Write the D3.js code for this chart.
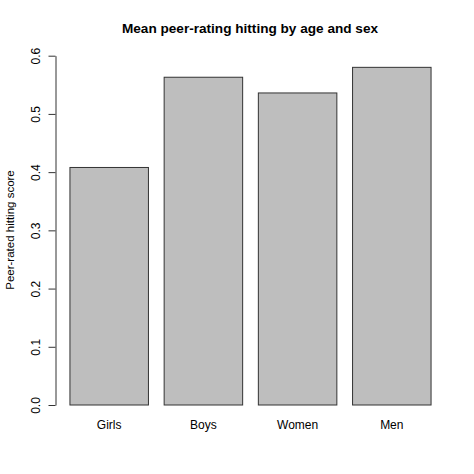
<!DOCTYPE html>
<html>
<head>
<meta charset="utf-8">
<script src="https://cdn.jsdelivr.net/npm/d3@7"></script>
<style>
  body { margin: 0; background: #fff; }
  text { font-family: "Liberation Sans", Arial, sans-serif; fill: #000; }
</style>
</head>
<body>
<svg id="chart" width="474" height="474"></svg>
<script>
// chart data
var categories = ["Girls", "Boys", "Women", "Men"];
var meanScores = [0.408, 0.563, 0.536, 0.580];
var yTicks = [0, 0.1, 0.2, 0.3, 0.4, 0.5, 0.6];
var chartTitle = "Mean peer-rating hitting by age and sex";
var yLabel = "Peer-rated hitting score";

var svg = d3.select("#chart");
svg.append("rect").attr("width", 474).attr("height", 474).attr("fill", "#fff");

// plot region (R barplot style: width 1, space 0.2)
var left = 55.5, right = 445.5;
var x = d3.scaleLinear().domain([0.016, 4.984]).range([left, right]);
var y = d3.scaleLinear().domain([0, 0.6]).range([405, 55.7]);

var barX = function(i) { return 0.2 + i * 1.2; };

svg.selectAll("rect.bar").data(meanScores).enter().append("rect")
	.attr("class", "bar")
	.attr("x", function(d, i) { return x(barX(i)); })
	.attr("y", function(d) { return y(d); })
	.attr("width", function(d, i) { return x(barX(i) + 1) - x(barX(i)); })
	.attr("height", function(d) { return y(0) - y(d); })
	.attr("fill", "#bebebe")
	.attr("stroke", "#333")
	.attr("stroke-width", 1);

// category labels
svg.selectAll("text.cat").data(categories).enter().append("text")
	.attr("class", "cat")
	.attr("x", function(d, i) { return x(barX(i) + 0.5); })
	.attr("y", 429)
	.attr("text-anchor", "middle")
	.attr("font-size", "12px")
	.text(function(d) { return d; });

// y axis
var yAxis = d3.axisLeft(y).tickValues(yTicks).tickSize(7).tickSizeOuter(0)
	.tickFormat(d3.format(".1f"));
var gy = svg.append("g").attr("transform", "translate(" + left + ",0)").call(yAxis);
gy.select(".domain").attr("stroke", "#333");
gy.selectAll(".tick line").attr("stroke", "#333");
gy.selectAll(".tick text")
	.attr("font-size", "12px")
	.attr("font-family", "Liberation Sans, Arial, sans-serif")
	.attr("fill", "#000")
	.attr("x", 0).attr("dy", null)
	.attr("text-anchor", "middle")
	.attr("transform", "translate(-20,0) rotate(-90)")
	.attr("y", 4);

// y label
svg.append("text")
	.attr("transform", "translate(13.5,230) rotate(-90)")
	.attr("text-anchor", "middle")
	.attr("font-size", "11.5px")
	.text(yLabel);

// title
svg.append("text")
	.attr("x", 250).attr("y", 33)
	.attr("text-anchor", "middle")
	.attr("font-size", "13.6px")
	.attr("font-weight", "bold")
	.text(chartTitle);
</script>
</body>
</html>
